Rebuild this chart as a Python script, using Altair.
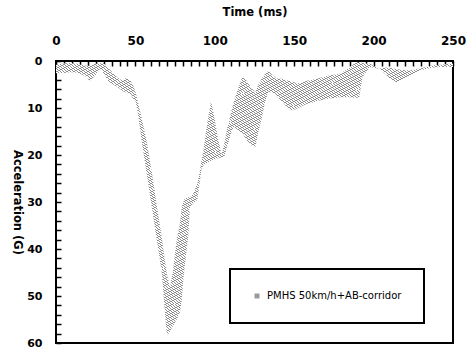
import altair as alt
import pandas as pd

# Corridor (time in ms, acceleration in G)
time_ms = [0, 3, 6, 10, 13, 16, 19.5, 21, 24.5, 27.7, 30, 33, 36, 39, 42, 44, 46.6, 48.7,
           50, 51.5, 53.5, 55.5, 57.1, 60.3, 63.4, 66.6, 68.2, 69.7, 70.5, 71.8, 73.5, 76,
           78, 79.2, 80.2, 81, 83.3, 84.4, 86.3, 89, 90.5, 91.7, 93, 95, 97.6, 99.5, 102,
           104.3, 106, 108, 110.6, 112, 114, 117.5, 120, 122.5, 125.5, 127.5, 129.5, 131.5,
           133.7, 135.8, 139, 142, 147.4, 150.5, 153.6, 158, 160, 166, 172, 179, 185, 189,
           191, 193, 197.7, 200, 204, 208, 211, 214.5, 218, 223, 229, 237.6, 242, 248, 250]
g_lower = [0.8, 0.6, 0.5, 0.4, 0.6, 0.8, 1.0, 1.0, 0.6, 0.5, 0.5, 1.5, 2.6, 3.6, 4.2, 3.6, 4.0, 5.3,
           6.5, 8.5, 11.5, 14.5, 17.0, 23.5, 30.5, 37.5, 41.5, 45.0, 46.3, 48.1, 45.0, 38.0,
           34.5, 31.0, 30.0, 29.3, 29.0, 29.0, 28.3, 26.0, 23.5, 21.0, 18.5, 13.8, 8.5, 11.5, 16.5,
           19.9, 17.5, 14.0, 10.3, 8.5, 6.5, 3.2, 4.2, 5.5, 6.7, 5.0, 3.7, 2.8,
           2.1, 2.8, 3.7, 3.8, 4.3, 4.6, 4.8, 4.2, 4.1, 3.6, 3.1, 2.7, 1.4, 0.2,
           0.3, 0.4, 0.6, 1.0, 1.6, 1.4, 1.5, 1.7, 1.9, 2.0, 1.6, 0.9, 0.8, 0.6, 0.5]
g_upper = [2.6, 2.6, 2.5, 2.4, 2.5, 2.8, 3.4, 4.3, 3.2, 1.7, 2.6, 4.3, 5.0, 5.6, 6.4, 6.7, 7.0, 8.1,
           8.3, 11.0, 16.0, 20.5, 24.0, 31.0, 38.0, 45.0, 52.0, 57.9, 58.2, 57.5, 56.5, 55.0,
           53.6, 51.0, 46.6, 44.0, 37.3, 31.0, 30.3, 29.5, 26.0, 22.8, 22.2, 21.8, 21.3, 21.0, 20.7,
           20.5, 20.3, 18.0, 15.0, 14.0, 14.5, 15.5, 16.8, 17.8, 18.4, 15.0, 12.4, 9.0,
           6.5, 6.7, 7.5, 8.5, 10.6, 10.3, 9.8, 9.1, 9.0, 8.4, 8.0, 7.7, 7.7, 7.8,
           7.7, 3.4, 1.3, 1.4, 1.7, 3.0, 4.0, 4.5, 3.9, 3.1, 2.0, 1.4, 1.3, 1.2, 1.3]
series_label = "PMHS 50km/h+AB-corridor"

x_label_ticks = [0, 50, 100, 150, 200, 250]
x_minor_ticks = list(range(0, 251, 5))
y_label_ticks = [0, 10, 20, 30, 40, 50, 60]
y_minor_ticks = list(range(0, 61, 2))

df = pd.DataFrame({"t": time_ms, "lo": g_lower, "hi": g_upper,
                   "series": [series_label] * len(time_ms)})

# diagonal hatch imitation with a striped gradient
n_stripes = 230
stops = []
for k in range(n_stripes):
    a = k / n_stripes
    b = (k + 0.42) / n_stripes
    c = (k + 1) / n_stripes
    stops += [{"offset": round(a, 6), "color": "#8c8c8c"},
              {"offset": round(b, 6), "color": "#8c8c8c"},
              {"offset": round(b, 6), "color": "#ffffff"},
              {"offset": round(c, 6), "color": "#ffffff"}]
hatch = {"gradient": "linear", "x1": 0, "y1": 1, "x2": 1, "y2": 0, "stops": stops}

FONT = "DejaVu Sans"
xscale = alt.Scale(domain=[0, 250], nice=False, zero=False)
yscale = alt.Scale(domain=[0, 60], nice=False, zero=False, reverse=True)

x_lab_axis = alt.Axis(orient="top", values=x_label_ticks, ticks=False, domain=False, grid=False,
                      labelPadding=14, labelFont=FONT, labelFontWeight="bold", labelFontSize=12,
                      labelColor="black", title="Time (ms)", titleFont=FONT, titleFontWeight="bold",
                      titleFontSize=11.5, titleColor="black", titleX=198.5, titleY=-49,
                      titleBaseline="middle", titleAlign="center", labelFlush=False)
y_lab_axis = alt.Axis(orient="left", values=y_label_ticks, ticks=False, domain=False, grid=False,
                      labelPadding=14, labelFont=FONT, labelFontWeight="bold", labelFontSize=11,
                      labelColor="black", title="Acceleration (G)", titleFont=FONT,
                      titleFontWeight="bold", titleFontSize=11.5, titleColor="black",
                      titleAngle=90, titleX=-40, titleY=141, titleBaseline="middle",
                      titleAlign="center", labelFlush=False)
x_tick_axis = alt.Axis(orient="top", values=x_minor_ticks, labels=False, domain=False, grid=False,
                       ticks=True, tickSize=5, tickWidth=1.5, tickColor="black", offset=-5, title=None)
y_tick_axis = alt.Axis(orient="left", values=y_minor_ticks, labels=False, domain=False, grid=False,
                       ticks=True, tickSize=5, tickWidth=1.5, tickColor="black", offset=-5, title=None)

area = alt.Chart(df).mark_area(fill=hatch, opacity=1, interpolate="linear").encode(
    x=alt.X("t:Q", scale=xscale, axis=x_lab_axis),
    y=alt.Y("lo:Q", scale=yscale, axis=y_lab_axis),
    y2="hi:Q",
)

legend_layer = alt.Chart(df).mark_square(opacity=0, size=10).encode(
    x=alt.X("t:Q", scale=xscale, axis=x_tick_axis),
    y=alt.Y("lo:Q", scale=yscale, axis=y_tick_axis),
    color=alt.Color("series:N", scale=alt.Scale(range=["#9a9a9a"]),
                    legend=alt.Legend(title=None, orient="none", legendX=174, legendY=208)),
)

chart = alt.layer(area, legend_layer).resolve_axis(x="independent", y="independent").properties(
    width=397, height=282, autosize="none", background="white",
    padding={"left": 56, "top": 61, "right": 21, "bottom": 14},
).configure_view(stroke="black", strokeWidth=2).configure_legend(
    padding=22, strokeColor="black", strokeWidth=2, fillColor="white",
    labelFont=FONT, labelFontSize=10, labelColor="black", labelOffset=5,
    symbolType="square", symbolSize=25, symbolOpacity=1, symbolStrokeWidth=0,
)

chart.save("out.html", embed_options={"renderer": "svg", "actions": False})
